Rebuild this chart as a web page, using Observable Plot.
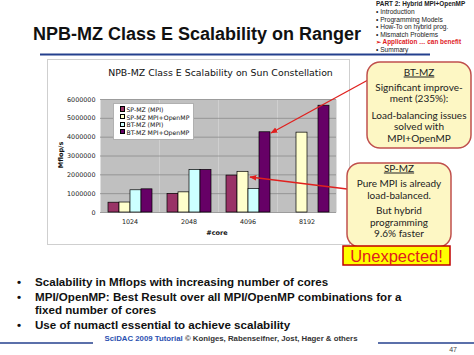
<!DOCTYPE html>
<html><head><meta charset="utf-8">
<script src="https://cdn.jsdelivr.net/npm/d3@7"></script>
<script src="https://cdn.jsdelivr.net/npm/@observablehq/plot@0.6"></script>
<style>
html,body{margin:0;padding:0;background:#fff;}
#slide{position:relative;width:474px;height:355px;overflow:hidden;background:#fff;font-family:"Liberation Sans",Arial,sans-serif;}
#box{position:absolute;left:47px;top:59px;width:303px;height:186px;box-sizing:border-box;border:1px solid #cfcfcf;background:#fff;}
#chart{position:absolute;left:47px;top:59px;width:303px;height:186px;}
#legend{position:absolute;left:113px;top:103px;width:81px;height:37px;background:#fff;box-sizing:border-box;border:0.5px solid #b0b0b0;padding-top:2px;font-family:"DejaVu Sans",sans-serif;font-size:6.2px;color:#111;}
#legend .row{height:7.6px;line-height:7.6px;white-space:nowrap;padding-left:6px;}
#legend .sw{display:inline-block;width:3.4px;height:3.4px;border:0.6px solid #000;margin-right:1px;vertical-align:0.3px;}
#deco{position:absolute;left:0;top:0;pointer-events:none;}
</style></head>
<body>
<div id="slide">
  <div id="box"></div>
  <div id="chart"></div>
  <div id="legend"></div>
  <svg id="deco" width="474" height="355" viewBox="0 0 474 355">
    <defs>
      <marker id="ah" viewBox="0 0 10 10" refX="9" refY="5" markerWidth="7" markerHeight="7" orient="auto" markerUnits="userSpaceOnUse">
        <path d="M0,1 L10,5 L0,9 z" fill="#e0201e"/>
      </marker>
    </defs>
    <!-- title -->
    <text x="33" y="40" font-family="Liberation Sans, Arial" font-weight="bold" font-size="18" fill="#111">NPB-MZ Class E Scalability on Ranger</text>
    <line x1="40" y1="54.5" x2="430" y2="54.5" stroke="#24408e" stroke-width="2"/>
    <!-- nav -->
    <g font-family="Liberation Sans, Arial" font-size="6.6" fill="#222">
      <text x="376" y="5.8" font-weight="bold" font-size="6.4">PART 2: Hybrid MPI+OpenMP</text>
      <text x="376" y="14">• Introduction</text>
      <text x="376" y="21.6">• Programming Models</text>
      <text x="376" y="29">• How-To on hybrid prog.</text>
      <text x="376" y="36.6">• Mismatch Problems</text>
      <text x="376" y="44" font-weight="bold" font-size="6.4" fill="#e0201e">➢ Application … can benefit</text>
      <text x="376" y="51.6">• Summary</text>
    </g>
    <!-- chart texts -->
    <text x="220.5" y="76" text-anchor="middle" font-family="DejaVu Sans" font-size="9.4" fill="#111">NPB-MZ Class E Scalability on Sun Constellation</text>
    <text transform="translate(62.5,155) rotate(-90)" text-anchor="middle" font-family="DejaVu Sans" font-weight="bold" font-size="6.5" fill="#111">Mflop/s</text>
    <text x="217" y="234.5" text-anchor="middle" font-family="DejaVu Sans" font-weight="bold" font-size="6.5" fill="#111">#core</text>
    <!-- arrows -->
    <line x1="368" y1="80" x2="271" y2="133" stroke="#e0201e" stroke-width="1.3" marker-end="url(#ah)"/>
    <line x1="347" y1="189" x2="250" y2="177" stroke="#e0201e" stroke-width="1.3" marker-end="url(#ah)"/>
    <!-- callout BT -->
    <rect x="367" y="62" width="104" height="86" rx="13" fill="#fdf7c4" stroke="#c0504d" stroke-width="1.5"/>
    <g font-family="Lato, sans-serif" font-size="10" fill="#222" text-anchor="middle">
      <text x="419" y="75.5" text-decoration="underline">BT-MZ</text>
      <text x="419" y="90.5">Significant improve-</text>
      <text x="419" y="101.8">ment (235%):</text>
      <text x="419" y="118.5">Load-balancing issues</text>
      <text x="419" y="129.5">solved with</text>
      <text x="419" y="141.5">MPI+OpenMP</text>
    </g>
    <!-- callout SP -->
    <rect x="347" y="163" width="104" height="84" rx="13" fill="#fdf7c4" stroke="#c0504d" stroke-width="1.5"/>
    <g font-family="Lato, sans-serif" font-size="10" fill="#222" text-anchor="middle">
      <text x="399" y="171.5" text-decoration="underline">SP-MZ</text>
      <text x="399" y="186.5">Pure MPI is already</text>
      <text x="399" y="198.5">load-balanced.</text>
      <text x="399" y="213.5">But hybrid</text>
      <text x="399" y="225.5">programming</text>
      <text x="399" y="236.5">9.6% faster</text>
    </g>
    <rect x="343" y="246" width="107" height="19" fill="#ffff00" stroke="#c00000" stroke-width="1.5"/>
    <text x="396.5" y="262" text-anchor="middle" font-family="Liberation Sans, Arial" font-size="16.5" fill="#e0201e">Unexpected!</text>
    <!-- bullets -->
    <g font-family="Liberation Sans, Arial" font-weight="bold" font-size="11.6" fill="#111">
      <text x="17" y="285.5">•</text><text x="35" y="285.5">Scalability in Mflops with increasing number of cores</text>
      <text x="17" y="300.5">•</text><text x="35" y="300.5">MPI/OpenMP: Best Result over all MPI/OpenMP combinations for a</text>
      <text x="35" y="313.5">fixed number of cores</text>
      <text x="17" y="328.5">•</text><text x="35" y="328.5">Use of numactl essential to achieve scalability</text>
    </g>
    <!-- footer -->
    <text x="231" y="340.5" text-anchor="middle" font-family="Liberation Sans, Arial" font-weight="bold" font-size="7.8" fill="#333"><tspan fill="#2b50b0">SciDAC 2009 Tutorial</tspan> © Koniges, Rabenseifner, Jost, Hager &amp; others</text>
    <line x1="0" y1="343" x2="93" y2="343" stroke="#24408e" stroke-width="1.5"/>
    <line x1="378" y1="343" x2="474" y2="343" stroke="#24408e" stroke-width="1.5"/>
    <text x="457" y="351.5" text-anchor="end" font-family="Liberation Sans, Arial" font-size="7" fill="#444">47</text>
  </svg>
</div>
<script>
const cores = ["1024", "2048", "4096", "8192"];
const seriesNames = ["SP-MZ (MPI)", "SP-MZ MPI+OpenMP", "BT-MZ (MPI)", "BT-MZ MPI+OpenMP"];
const seriesColors = ["#993366", "#ffffcc", "#ccffff", "#660066"];
const spMpi = [520000, 990000, 1960000, null];
const spHybrid = [530000, 1070000, 2160000, 4240000];
const btMpi = [1180000, 2260000, 1250000, null];
const btHybrid = [1230000, 2260000, 4260000, 5670000];
const yTicks = [0, 1000000, 2000000, 3000000, 4000000, 5000000, 6000000];

const seriesValues = [spMpi, spHybrid, btMpi, btHybrid];
const data = [];
cores.forEach((c, i) => {
  seriesNames.forEach((s, j) => {
    const v = seriesValues[j][i];
    if (v != null) data.push({core: c, series: s, value: v});
  });
});

const chart = Plot.plot({
  width: 303,
  height: 186,
  marginLeft: 53,
  marginRight: 14,
  marginTop: 40,
  marginBottom: 33,
  style: {background: "transparent", fontFamily: "DejaVu Sans, sans-serif", fontSize: "6.4px", color: "#222", overflow: "visible"},
  fx: {domain: cores, padding: 0, axis: "bottom", label: null, tickSize: 0, tickPadding: 7},
  x: {domain: seriesNames, paddingInner: 0, paddingOuter: 0.68, axis: null},
  y: {domain: [0, 6000000], ticks: yTicks, tickFormat: d => String(d), label: null, tickSize: 0, tickPadding: 5},
  color: {domain: seriesNames, range: seriesColors},
  marks: [
    Plot.frame({fill: "#c0c0c0", stroke: null}),
    Plot.ruleY(yTicks, {stroke: "#8a8a8a", strokeWidth: 0.8}),
    Plot.barY(data, {fx: "core", x: "series", y: "value", fill: "series", stroke: "#000", strokeWidth: 0.7})
  ]
});
document.getElementById("chart").appendChild(chart);

const legend = document.getElementById("legend");
seriesNames.forEach((s, i) => {
  const row = document.createElement("div");
  row.className = "row";
  const sw = document.createElement("span");
  sw.className = "sw";
  sw.style.background = seriesColors[i];
  row.appendChild(sw);
  row.appendChild(document.createTextNode(s));
  legend.appendChild(row);
});
</script>
</body></html>
